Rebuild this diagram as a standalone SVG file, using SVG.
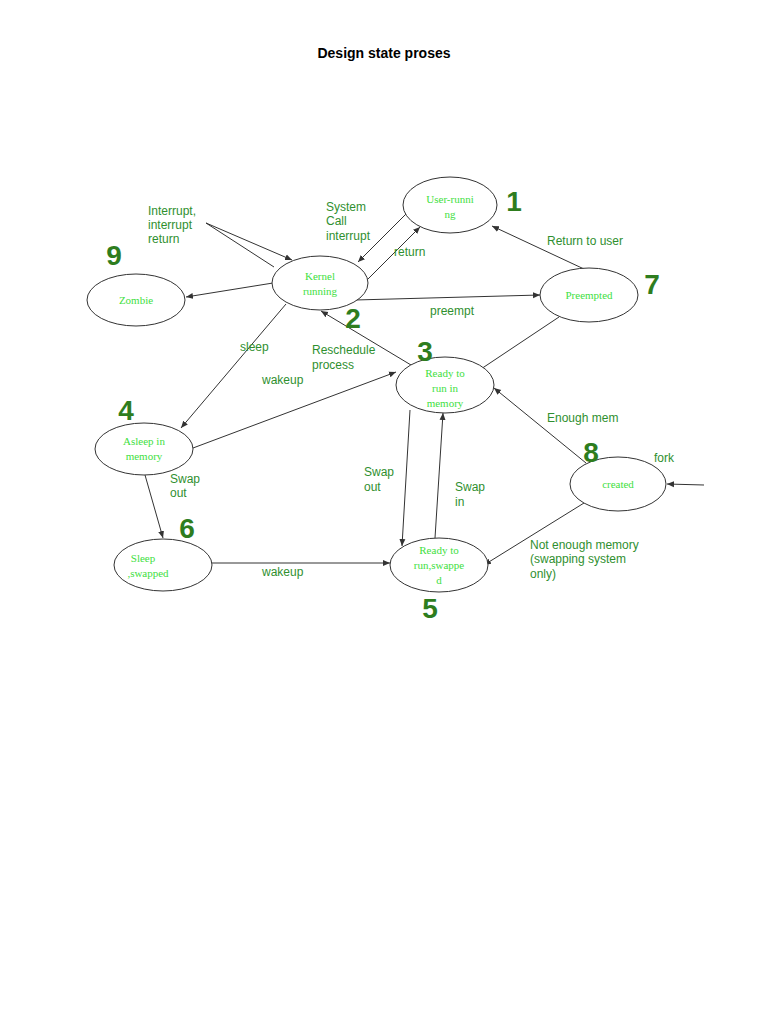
<svg xmlns="http://www.w3.org/2000/svg" width="768" height="1024" viewBox="0 0 768 1024">
<style>
.n{fill:#fff;stroke:#333;stroke-width:1}
.nt{font-family:"Liberation Serif",serif;font-size:11px;fill:#3ee03e;text-anchor:middle}
.num{font-family:"Liberation Sans",sans-serif;font-size:28px;font-weight:bold;fill:#2e7d1e;text-anchor:middle}
.lb{font-family:"Liberation Sans",sans-serif;font-size:12px;fill:#2f8f2f}
.e{stroke:#333;stroke-width:1;fill:none}
.a{marker-end:url(#ar)}
</style>
<defs><marker id="ar" markerWidth="8" markerHeight="8" refX="7" refY="4" orient="auto" markerUnits="userSpaceOnUse"><path d="M0,1L7,4L0,7z" fill="#333"/></marker></defs>
<rect width="768" height="1024" fill="#fff"/>
<text x="384" y="58" font-family="Liberation Sans,sans-serif" font-size="14" font-weight="bold" text-anchor="middle">Design state proses</text>
<g id="edges">
<path class="e" d="M206,223L274,267"/><path class="e a" d="M206,223L292,260"/>
<path class="e a" d="M273,283L186,297"/>
<path class="e a" d="M408,212L358,262"/>
<path class="e a" d="M364,283L420,227"/>
<path class="e a" d="M584,269L492,226"/>
<path class="e a" d="M355,300L540,295"/>
<path class="e a" d="M411,365L321,311"/>
<path class="e" d="M559,317L478,371"/>
<path class="e a" d="M286,304L181,428"/>
<path class="e a" d="M193,448L396,372"/>
<path class="e a" d="M145,475L163,538"/>
<path class="e a" d="M212,563L390,563"/>
<path class="e a" d="M410,410L402,546"/>
<path class="e a" d="M435,538L443,413"/>
<path class="e a" d="M586,463L494,388"/>
<path class="e a" d="M584,503L484,565"/>
<path class="e a" d="M704,485L667,484"/>
</g>
<g id="n1"><ellipse class="n" cx="450" cy="205" rx="47" ry="28"/><text class="nt" x="450" y="203">User-runni</text><text class="nt" x="450" y="218">ng</text><text class="num" x="514" y="211">1</text></g>
<g id="n2"><ellipse class="n" cx="320" cy="283" rx="48" ry="27"/><text class="nt" x="320" y="280">Kernel</text><text class="nt" x="320" y="295">running</text><text class="num" x="353" y="328">2</text></g>
<g id="n3"><ellipse class="n" cx="445" cy="385" rx="49" ry="28"/><text class="nt" x="445" y="377">Ready to</text><text class="nt" x="445" y="392">run in</text><text class="nt" x="445" y="407">memory</text><text class="num" x="425" y="361">3</text></g>
<g id="n4"><ellipse class="n" cx="144" cy="449" rx="49" ry="26"/><text class="nt" x="144" y="445">Asleep in</text><text class="nt" x="144" y="460">memory</text><text class="num" x="126" y="420">4</text></g>
<g id="n5"><ellipse class="n" cx="439" cy="565" rx="49" ry="27"/><text class="nt" x="439" y="554">Ready to</text><text class="nt" x="439" y="569">run,swappe</text><text class="nt" x="439" y="584">d</text><text class="num" x="430" y="618">5</text></g>
<g id="n6"><ellipse class="n" cx="163" cy="565" rx="49" ry="26"/><text class="nt" x="143" y="562">Sleep</text><text class="nt" x="148" y="577">,swapped</text><text class="num" x="187" y="538">6</text></g>
<g id="n7"><ellipse class="n" cx="589" cy="295" rx="49" ry="27"/><text class="nt" x="589" y="299">Preempted</text><text class="num" x="652" y="294">7</text></g>
<g id="n8"><ellipse class="n" cx="618" cy="484" rx="48" ry="27"/><text class="nt" x="618" y="488">created</text><text class="num" x="591" y="462">8</text></g>
<g id="n9"><ellipse class="n" cx="136" cy="300" rx="49" ry="26"/><text class="nt" x="136" y="304">Zombie</text><text class="num" x="114" y="265">9</text></g>
<g id="labels">
<text class="lb" x="148" y="215">Interrupt,</text><text class="lb" x="148" y="229">interrupt</text><text class="lb" x="148" y="243">return</text>
<text class="lb" x="326" y="211">System</text><text class="lb" x="326" y="225">Call</text><text class="lb" x="326" y="240">interrupt</text>
<text class="lb" x="394" y="256">return</text>
<text class="lb" x="547" y="245">Return to user</text>
<text class="lb" x="430" y="315">preempt</text>
<text class="lb" x="240" y="351">sleep</text>
<text class="lb" x="312" y="354">Reschedule</text><text class="lb" x="312" y="369">process</text>
<text class="lb" x="262" y="384">wakeup</text>
<text class="lb" x="547" y="422">Enough mem</text>
<text class="lb" x="654" y="462">fork</text>
<text class="lb" x="170" y="483">Swap</text><text class="lb" x="170" y="497">out</text>
<text class="lb" x="364" y="476">Swap</text><text class="lb" x="364" y="491">out</text>
<text class="lb" x="455" y="491">Swap</text><text class="lb" x="455" y="506">in</text>
<text class="lb" x="530" y="549">Not enough memory</text><text class="lb" x="530" y="563">(swapping system</text><text class="lb" x="530" y="578">only)</text>
<text class="lb" x="262" y="576">wakeup</text>
</g>
</svg>
